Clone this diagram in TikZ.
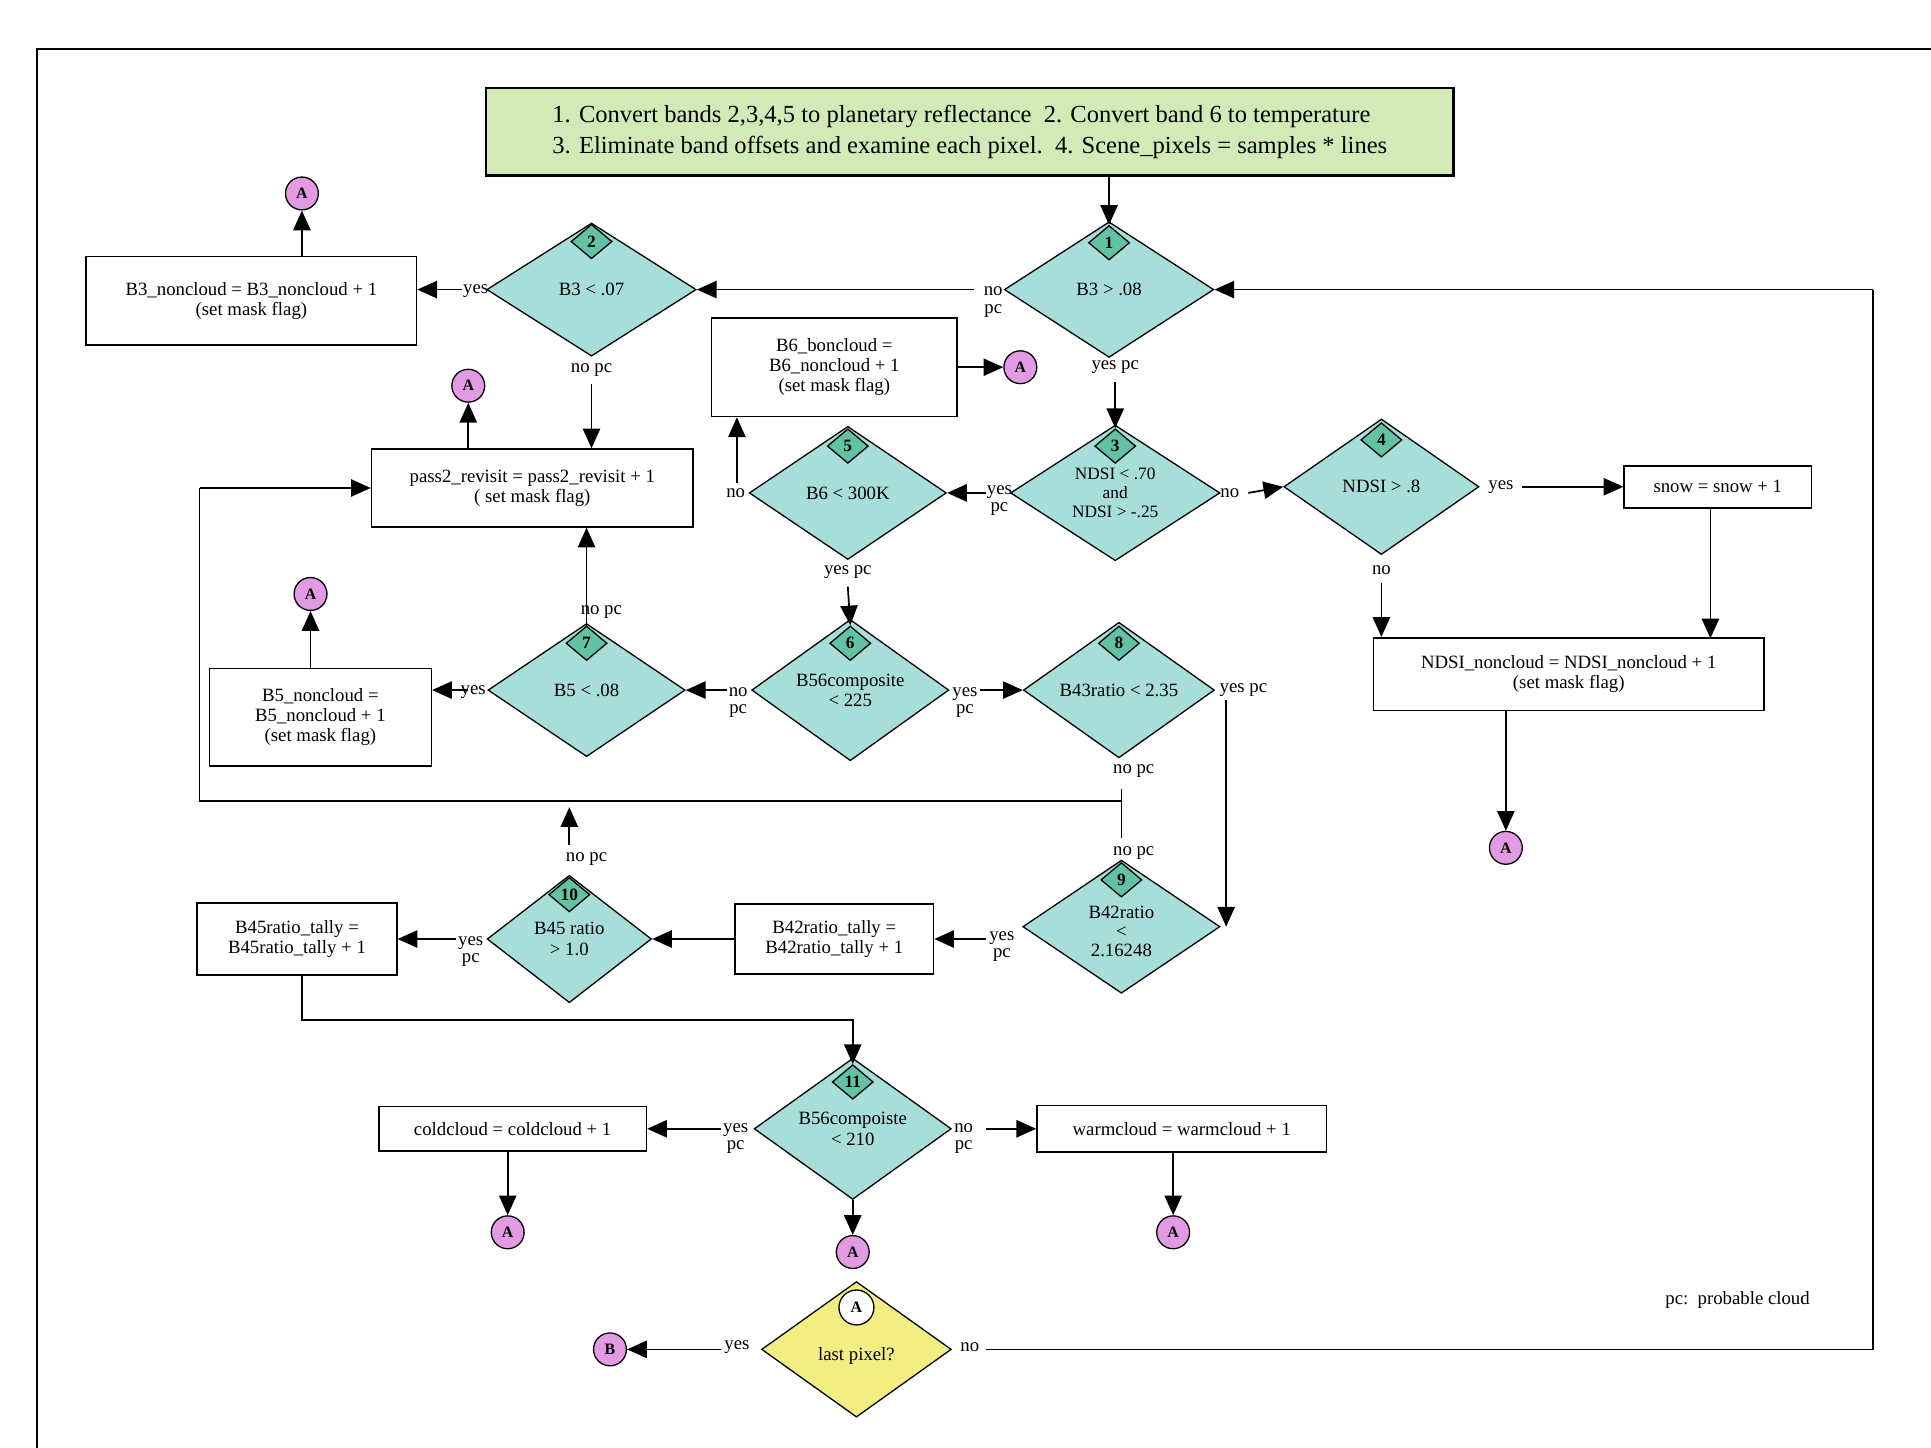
\documentclass[tikz,border=0pt]{standalone}
\usepackage{fontspec}
\setmainfont{Liberation Serif}
\usetikzlibrary{shapes.geometric,arrows.meta}
\definecolor{dcol}{HTML}{A8DEDA}
\definecolor{bcol}{HTML}{62C2A4}
\definecolor{gcol}{HTML}{D2EBB6}
\definecolor{acol}{HTML}{E29BE2}
\definecolor{ycol}{HTML}{F2EE82}
\begin{document}
\begin{tikzpicture}[x=0.03cm,y=-0.03cm,
  every node/.style={font=\fontsize{13}{14}\selectfont, align=center},
  dia/.style={diamond, draw, line width=0.9pt, fill=dcol, inner sep=0pt, minimum width=4.8cm, minimum height=3.24cm},
  badge/.style={diamond, draw, line width=0.9pt, fill=bcol, inner sep=0pt, minimum width=1.0cm, minimum height=0.84cm},
  num/.style={font=\fontsize{12}{12}\selectfont\bfseries},
  box/.style={rectangle, draw, line width=1.1pt, fill=white, inner sep=2pt},
  circ/.style={circle, draw, line width=0.9pt, fill=acol, minimum size=0.8cm, inner sep=0pt, font=\fontsize{11}{11}\selectfont\bfseries},
  lbl/.style={inner sep=1pt, font=\fontsize{13}{12}\selectfont},
  arr/.style={line width=1.2pt, -{Triangle[length=0.48cm,width=0.42cm]}},
  ln/.style={line width=1.1pt}]
\useasboundingbox (0,0) rectangle (1567,1175);
\fill[white] (0,0) rectangle (1567,1175);
\draw[line width=1.6pt] (30,1190) -- (30,40) -- (1580,40);

% top box
\node[box, fill=gcol, line width=1.8pt, minimum width=23.55cm, minimum height=2.13cm, font=\fontsize{17}{22}\selectfont, align=left] (top) at (787,107)
 {1. Convert bands 2,3,4,5 to planetary reflectance\ \ 2. Convert band 6 to temperature\\3. Eliminate band offsets and examine each pixel.\ \ 4. Scene\_pixels = samples * lines};

% diamonds
\node[dia, minimum width=5.1cm, minimum height=3.3cm] (d1) at (900,235) {B3 > .08};
\node[dia, minimum width=5.1cm, minimum height=3.24cm] (d2) at (480,235) {B3 < .07};
\node[dia, minimum width=5.1cm, minimum height=3.3cm, font=\fontsize{12}{13}\selectfont] (d3) at (905,400) {NDSI < .70\\and\\NDSI > -.25};
\node[dia, minimum width=4.75cm, minimum height=3.3cm] (d4) at (1121,395) {NDSI > .8};
\node[dia] (d5) at (688,400) {B6 < 300K};
\node[dia] (d6) at (690,560) {B56composite\\< 225};
\node[dia] (d7) at (476,560) {B5 < .08};
\node[dia, minimum width=4.65cm, minimum height=3.3cm] (d8) at (908,560) {B43ratio < 2.35};
\node[dia, font=\fontsize{13}{13}\selectfont] (d9) at (910,752) {\\[2pt]B42ratio\\<\\2.16248};
\node[dia, minimum width=4.0cm, minimum height=3.1cm] (d10) at (462,762) {B45 ratio\\> 1.0};
\node[dia, minimum width=4.8cm, minimum height=3.3cm] (d11) at (692,916) {B56compoiste\\< 210};
\node[dia, fill=ycol, minimum width=4.62cm, minimum height=3.3cm] (dl) at (695,1095) {\\[4pt]last pixel?};

% badges
\foreach \n/\x/\y/\t in {d1/900/197/1, d2/480/196/2, d3/905/362/3, d4/1121/357/4, d5/688/362/5, d6/690/522/6, d7/476/522/7, d8/908/522/8, d9/910/714/9, d10/462/726/10, d11/692/878/11}{
  \node[badge] (\n b) at (\x,\y) {};
  \node[num] at (\x,\y) {\t};
}
\node[circ, fill=white, minimum size=0.85cm] (dlb) at (695,1061) {A};

% boxes
\node[box, minimum width=8.04cm, minimum height=2.16cm] (b3) at (204,244) {B3\_noncloud = B3\_noncloud + 1\\(set mask flag)};
\node[box, minimum width=7.83cm, minimum height=1.89cm] (p2) at (432,396) {pass2\_revisit = pass2\_revisit + 1\\( set mask flag)};
\node[box, minimum width=5.97cm, minimum height=2.4cm] (b6) at (677,298) {B6\_boncloud =\\B6\_noncloud + 1\\(set mask flag)};
\node[box, minimum width=4.56cm, minimum height=1.02cm] (snow) at (1394,395) {snow = snow + 1};
\node[box, minimum width=9.51cm, minimum height=1.77cm] (nd) at (1273,547) {NDSI\_noncloud = NDSI\_noncloud + 1\\(set mask flag)};
\node[box, minimum width=5.4cm, minimum height=2.37cm] (b5) at (260,582) {B5\_noncloud =\\B5\_noncloud + 1\\(set mask flag)};
\node[box, minimum width=4.83cm, minimum height=1.71cm] (b42) at (677,762) {B42ratio\_tally =\\B42ratio\_tally + 1};
\node[box, minimum width=4.86cm, minimum height=1.74cm] (b45) at (241,762) {B45ratio\_tally =\\B45ratio\_tally + 1};
\node[box, minimum width=6.51cm, minimum height=1.08cm] (cold) at (416,916) {coldcloud = coldcloud + 1};
\node[box, minimum width=7.05cm, minimum height=1.14cm] (warm) at (959,916) {warmcloud = warmcloud + 1};

% A circles
\node[circ] (a1) at (245,157) {A};
\node[circ] (a2) at (380,313) {A};
\node[circ] (a3) at (828,298) {A};
\node[circ] (a4) at (252,482) {A};
\node[circ] (a5) at (1222,688) {A};
\node[circ] (a6) at (412,1000) {A};
\node[circ] (a7) at (692,1016) {A};
\node[circ] (a8) at (952,1000) {A};
\node[circ] (bb) at (495,1095) {B};

\node[lbl] at (1410,1055) {pc:\ \ probable cloud};

% coordinates
\coordinate (r1) at (1520,235);
\coordinate (r2) at (1520,1095);
\coordinate (c1) at (800,1095);
\coordinate (c2) at (790,235);
\coordinate (c3) at (375,235);
\coordinate (c4) at (480,312);
\coordinate (c5) at (905,310);
\coordinate (c6) at (800,400);
\coordinate (c7) at (598,392);
\coordinate (c8) at (1013,400);
\coordinate (c9) at (1235,395);
\coordinate (c10) at (1121,473);
\coordinate (c11) at (688,476);
\coordinate (c12) at (590,560);
\coordinate (c13) at (380,560);
\coordinate (c14) at (476,508);
\coordinate (c15) at (795,560);
\coordinate (c16) at (800,762);
\coordinate (c17) at (462,686);
\coordinate (c18) at (462,655);
\coordinate (c19) at (370,762);
\coordinate (c20) at (585,916);
\coordinate (c21) at (800,916);
\coordinate (c22) at (585,1095);
\coordinate (s1) at (1388,412);
\coordinate (s2) at (1388,518);
\coordinate (l8a) at (910,640);
\coordinate (l8b) at (910,650);
\coordinate (l8c) at (162,650);
\coordinate (l8d) at (162,396);
\coordinate (l8e) at (910,680);
\coordinate (y8a) at (995,568);
\coordinate (y8b) at (995,752);
\coordinate (c45a) at (245,828);
\coordinate (c45b) at (692,828);

% connectors
\draw[arr] (top.south -| d1) -- (d1b.north);
\draw[arr] (r1) -- (d1.east);
\draw[ln] (r1) -- (r2) -- (c1);
\node[lbl] at (787,1093) {no};
\draw[arr] (c2) -- (d2.east);
\node[lbl] at (806,245) {no\\pc};
\draw[arr] (c3) -- (b3.east |- c3);
\node[lbl] at (386,236) {yes};
\draw[arr] (b3.north -| a1) -- (a1);
\node[lbl] at (480,300) {no pc};
\draw[arr] (c4) -- (p2.north -| c4);
\draw[arr] (p2.north -| a2) -- (a2);
\draw[arr] (b6.east) -- (a3);
\node[lbl] at (905,298) {yes pc};
\draw[arr] (c5) -- (d3b.north);
\draw[arr] (c6) -- (d5.east);
\node[lbl] at (811,406) {yes\\pc};
\node[lbl] at (597,400) {no};
\draw[arr] (c7) -- (b6.south -| c7);
\draw[arr] (c8) -- (d4.west);
\node[lbl] at (998,400) {no};
\draw[arr] (c9) -- (snow.west);
\node[lbl] at (1218,395) {yes};
\node[lbl] at (1121,463) {no};
\draw[arr] (c10) -- (nd.north -| c10);
\draw[arr] (s1) -- (s2);
\draw[arr] (nd.south -| a5) -- (a5);
\node[lbl] at (688,464) {yes pc};
\draw[arr] (c11) -- (d6b.north);
\draw[arr] (c12) -- (d7.east);
\node[lbl] at (599,570) {no\\pc};
\draw[arr] (c13) -- (b5.east |- c13);
\node[lbl] at (384,562) {yes};
\draw[arr] (b5.north -| a4) -- (a4);
\node[lbl] at (488,497) {no pc};
\draw[arr] (c14) -- (p2.south -| c14);
\draw[arr] (c15) -- (d8.west);
\node[lbl] at (783,570) {yes\\pc};
\node[lbl] at (1009,560) {yes pc};
\draw[arr] (y8a) -- (y8b);
\node[lbl] at (920,626) {no pc};
\draw[ln] (l8a) -- (l8e);
\draw[ln] (l8b) -- (l8c) -- (l8d);
\draw[arr] (l8d) -- (p2.west);
\node[lbl] at (920,692) {no pc};
\draw[arr] (c16) -- (b42.east);
\node[lbl] at (813,768) {yes\\pc};
\draw[arr] (b42.west) -- (d10.east);
\node[lbl] at (476,697) {no pc};
\draw[arr] (c17) -- (c18);
\draw[arr] (c19) -- (b45.east);
\node[lbl] at (382,772) {yes\\pc};
\draw[arr] (b45.south -| c45a) -- (c45a) -- (c45b) -- (d11b.north);
\draw[arr] (c20) -- (cold.east);
\node[lbl] at (597,924) {yes\\pc};
\draw[arr] (cold.south -| a6) -- (a6);
\draw[arr] (c21) -- (warm.west);
\node[lbl] at (782,924) {no\\pc};
\draw[arr] (warm.south -| a8) -- (a8);
\draw[arr] (d11.south) -- (a7);
\draw[arr] (c22) -- (bb);
\node[lbl] at (598,1093) {yes};
\end{tikzpicture}
\end{document}
